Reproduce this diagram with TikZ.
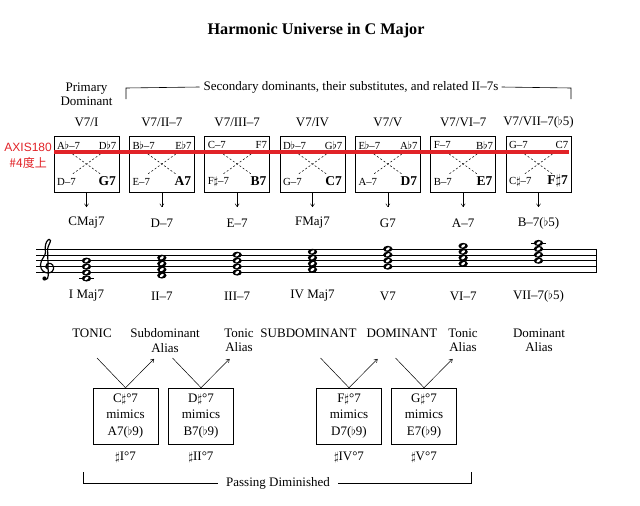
\documentclass[tikz,border=0pt]{standalone}
\usepackage{fontspec}
\setmainfont{Liberation Serif}
\newfontfamily\redsans{Liberation Sans}
\newfontfamily\cjkfont{Noto Sans CJK SC}
\usetikzlibrary{arrows.meta,calc}
\definecolor{axisred}{RGB}{225,35,40}
\begin{document}
\begin{tikzpicture}[x=1pt,y=-1pt,
  every node/.style={font=\fontsize{13}{14.5}\selectfont, inner sep=1pt},
  smalltxt/.style={font=\fontsize{10.8}{12}\selectfont},
  boldtxt/.style={font=\fontsize{13.5}{14}\selectfont\bfseries},
  chordbox/.style={draw, line width=0.6pt, minimum width=65pt, minimum height=56pt, inner sep=0pt},
  dimbox/.style={draw, line width=0.6pt, minimum width=65pt, minimum height=56pt, inner sep=0pt, align=center, font=\fontsize{13}{16.5}\selectfont},
  xdash/.style={dash pattern=on 2pt off 2pt, line width=0.5pt},
  arr/.style={-{To[length=3.5pt,width=4.5pt]}, line width=0.5pt},
  plain/.style={line width=0.5pt},
  brack/.style={line width=0.6pt},
  staffline/.style={line width=0.5pt},
  redtxt/.style={text=axisred, font=\redsans\fontsize{12}{14}\selectfont},
  wnote/.pic={\fill[black] (0,0) ellipse (4.7 and 3.1); \fill[white,rotate=35] (0,0) ellipse (2.2 and 1.25);}
]
\useasboundingbox (0,0) rectangle (640,506);

% title
\node[font=\fontsize{16.2}{18}\selectfont\bfseries] (title) at (316,31) {Harmonic Universe in C Major};

% header
\node[align=center] (prim) at (86.5,94.5) {Primary\\Dominant};
\node (sec) at (351,87) {Secondary dominants, their substitutes, and related II–7s};
\coordinate (tb1) at (126,99);
\coordinate (tb2) at (126,88);
\coordinate (tb3) at (571,88);
\coordinate (tb4) at (571,99);
\draw[brack] (tb1) -- (tb2) -- ([xshift=-3pt]sec.west);
\draw[brack] ([xshift=2pt]sec.east) -- (tb3) -- (tb4);

% columns
\foreach \i/\hd/\tl/\tr/\bl/\br/\ch/\rn in {
  0/{V7/I}/{A$\flat$–7}/{D$\flat$7}/{D–7}/{G7}/{CMaj7}/{I Maj7},
  1/{V7/II–7}/{B$\flat$–7}/{E$\flat$7}/{E–7}/{A7}/{D–7}/{II–7},
  2/{V7/III–7}/{C–7}/{F7}/{F$\sharp$–7}/{B7}/{E–7}/{III–7},
  3/{V7/IV}/{D$\flat$–7}/{G$\flat$7}/{G–7}/{C7}/{FMaj7}/{IV Maj7},
  4/{V7/V}/{E$\flat$–7}/{A$\flat$7}/{A–7}/{D7}/{G7}/{V7},
  5/{V7/VI–7}/{F–7}/{B$\flat$7}/{B–7}/{E7}/{A–7}/{VI–7},
  6/{V7/VII–7($\flat$5)}/{G–7}/{C7}/{C$\sharp$–7}/{F$\sharp$7}/{B–7($\flat$5)}/{VII–7($\flat$5)}%
}{
  \pgfmathsetmacro\cx{86.5+75.33*\i}
  \node (hd\i) at (\cx,122) {\hd};
  \node[chordbox] (box\i) at (\cx,164) {};
  \node[smalltxt,anchor=west] (tl\i) at (\cx-30.5,145) {\tl};
  \node[smalltxt,anchor=east] (tr\i) at (\cx+31,145) {\tr};
  \node[smalltxt,anchor=west] (bl\i) at (\cx-30.5,181.5) {\bl};
  \node[boldtxt,anchor=east] (br\i) at (\cx+30.5,181) {\br};
  \draw[xdash] ($(box\i.center)+(-14,-10)$) -- ($(box\i.center)+(14,10)$);
  \draw[xdash] ($(box\i.center)+(14,-10)$) -- ($(box\i.center)+(-14,10)$);
  \coordinate (ae\i) at (\cx,207);
  \draw[arr] (box\i.south) -- (ae\i);
  \node (cn\i) at (\cx,223) {\ch};
  \node (rn\i) at (\cx,296) {\rn};
}

% staff
\foreach \k in {0,...,4}{
  \draw[staffline] (36,272.5-5.9*\k) -- (596,272.5-5.9*\k);
}
\draw[staffline] (596,248.9) -- (596,272.5);
% ledger lines
\draw[line width=0.6pt] (79,278.4) -- (94,278.4);
\draw[line width=0.6pt] (531,243.0) -- (546,243.0);
% notes
\foreach \i in {0,...,6}{
  \foreach \p in {0,2,4,6}{
    \pgfmathsetmacro\cx{86.5+75.33*\i}
    \pgfmathsetmacro\ny{272.5-2.95*(\p+\i-2)}
    \pic at (\cx,\ny) {wnote};
  }
}
% treble clef
\draw[line width=1.2pt, line cap=round]
  (45.5,279.5) .. controls (47,280) and (48.5,278) .. (48.3,275)
  -- (47.6,250)
  .. controls (47.5,246) and (50.5,243) .. (50.5,240.5)
  .. controls (50.5,238.5) and (48,239) .. (46.5,242)
  .. controls (45,245) and (45,249) .. (45.5,252)
  .. controls (46,256) and (40.5,259) .. (40.5,265)
  .. controls (40.5,270.5) and (44.5,273) .. (48,273)
  .. controls (52,273) and (54,270) .. (53.5,267)
  .. controls (53,263.5) and (49,262.5) .. (47,264)
  .. controls (45,265.5) and (45.5,268.5) .. (47.5,269);
\fill (44.5,278.5) circle (2.1);

% function labels
\node (ton) at (92,333) {TONIC};
\node[align=center] (sda) at (165,340.5) {Subdominant\\Alias};
\node[align=center] (ta1) at (239,340.5) {Tonic\\Alias};
\node (sub) at (308.5,333) {SUBDOMINANT};
\node (dom) at (402,333) {DOMINANT};
\node[align=center] (ta2) at (463,340.5) {Tonic\\Alias};
\node[align=center] (da) at (539,340.5) {Dominant\\Alias};

% diminished boxes
\foreach \j/\x/\top/\mim/\lab in {
  1/125.5/{C$\sharp$°7}/{A7($\flat$9)}/{$\sharp$I°7},
  2/201/{D$\sharp$°7}/{B7($\flat$9)}/{$\sharp$II°7},
  3/349/{F$\sharp$°7}/{D7($\flat$9)}/{$\sharp$IV°7},
  4/424/{G$\sharp$°7}/{E7($\flat$9)}/{$\sharp$V°7}%
}{
  \node[dimbox] (dim\j) at (\x,416) {\top\\mimics\\\mim};
  \node (dl\j) at (\x,457) {\lab};
  \coordinate (dA\j) at (\x-28.5,358);
  \coordinate (dB\j) at (\x+28.5,359);
  \draw[plain] (dA\j) -- (dim\j.north);
  \draw[arr] (dim\j.north) -- (dB\j);
}

% passing diminished bracket
\node[inner xsep=8pt] (pd) at (278,483) {Passing Diminished};
\coordinate (pb1) at (83,472);
\coordinate (pb2) at (83,483);
\coordinate (pb3) at (471,483);
\coordinate (pb4) at (471,472);
\draw[brack] (pb1) -- (pb2) -- (pd.west);
\draw[brack] (pd.east) -- (pb3) -- (pb4);

% red axis
\coordinate (ra) at (54,151.5);
\coordinate (rb) at (569,151.5);
\draw[axisred, line width=4pt] (ra) -- (rb);
\node[redtxt,anchor=east] (ax1) at (53,147) {AXIS180};
\node[redtxt,anchor=east] (ax2) at (48,163) {\cjkfont \#4度上};
\end{tikzpicture}
\end{document}
